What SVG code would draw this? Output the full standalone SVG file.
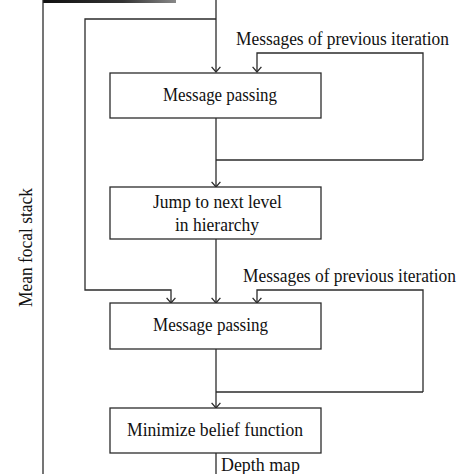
<svg xmlns="http://www.w3.org/2000/svg" width="474" height="474" viewBox="0 0 474 474">
<defs>
<style>
.ln{fill:none;stroke:#2b2b2b;stroke-width:1.3}
.box{fill:#fff;stroke:#2b2b2b;stroke-width:1.3}
.t{font-family:"Liberation Serif","Times New Roman",serif;font-size:18px;fill:#111}
</style>
<marker id="ah" viewBox="0 0 10 10" refX="9.4" refY="5" markerWidth="10" markerHeight="10" markerUnits="userSpaceOnUse" orient="auto">
<path d="M4.2,0.6 L9.4,5 L4.2,9.4" fill="none" stroke="#2b2b2b" stroke-width="1.3"/>
</marker>
<linearGradient id="bar" x1="0" y1="0" x2="1" y2="0">
<stop offset="0" stop-color="#111"/>
<stop offset="0.6" stop-color="#333"/>
<stop offset="1" stop-color="#888"/>
</linearGradient>
</defs>
<rect width="474" height="474" fill="#fff"/>
<rect x="43" y="0" width="133" height="3" fill="url(#bar)"/>
<g id="connectors">
<line class="ln" x1="43" y1="0" x2="43" y2="474"/>
<path class="ln" d="M216,0 V72" marker-end="url(#ah)"/>
<path class="ln" d="M216,19 H85 V290 H171 V303" marker-end="url(#ah)"/>
<path class="ln" d="M423,160 V53 H257 V72" marker-end="url(#ah)"/>
<path class="ln" d="M216,118 V187" marker-end="url(#ah)"/>
<path class="ln" d="M216,160 H423"/>
<path class="ln" d="M216,239 V303" marker-end="url(#ah)"/>
<path class="ln" d="M423,392 V290 H257 V303" marker-end="url(#ah)"/>
<path class="ln" d="M216,349 V408" marker-end="url(#ah)"/>
<path class="ln" d="M216,392 H423"/>
<line class="ln" x1="216" y1="453" x2="216" y2="474"/>
<text class="t" x="236" y="45" textLength="213" lengthAdjust="spacingAndGlyphs">Messages of previous iteration</text>
<text class="t" x="243" y="282" textLength="213" lengthAdjust="spacingAndGlyphs">Messages of previous iteration</text>
<text class="t" x="221" y="471" textLength="79" lengthAdjust="spacingAndGlyphs">Depth map</text>
<text class="t" transform="translate(32,307) rotate(-90)" textLength="119" lengthAdjust="spacingAndGlyphs">Mean focal stack</text>
</g>
<g id="mp1">
<rect class="box" x="110" y="73" width="211" height="45"/>
<text class="t" x="163" y="101" textLength="114" lengthAdjust="spacingAndGlyphs">Message passing</text>
</g>
<g id="jump">
<rect class="box" x="110" y="187" width="211" height="52"/>
<text class="t" x="153" y="208" textLength="129" lengthAdjust="spacingAndGlyphs">Jump to next level</text>
<text class="t" x="175" y="231" textLength="84" lengthAdjust="spacingAndGlyphs">in hierarchy</text>
</g>
<g id="mp2">
<rect class="box" x="110" y="303" width="211" height="46"/>
<text class="t" x="153" y="331" textLength="115" lengthAdjust="spacingAndGlyphs">Message passing</text>
</g>
<g id="minb">
<rect class="box" x="110" y="408" width="211" height="45"/>
<text class="t" x="127" y="436" textLength="176" lengthAdjust="spacingAndGlyphs">Minimize belief function</text>
</g>
</svg>
